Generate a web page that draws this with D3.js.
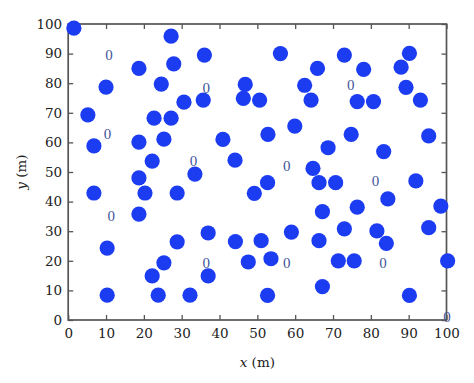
<!DOCTYPE html>
<html><head><meta charset="utf-8">
<script src="https://cdn.jsdelivr.net/npm/d3@7"></script>
<style>body{margin:0;background:#fff}</style>
</head><body>
<svg id="c" width="474" height="383"></svg>
<script>
const nodeX = [1.5,27.2,36,18.7,27.9,10,24.6,5.2,22.7,27.2,30.6,35.7,6.8,18.7,25.3,22.2,33.5,18.7,6.8,20.3,28.8,18.7,10.3,28.8,37,25.3,22.2,37,10.3,23.8,32.2,
 56.1,73,90.2,65.9,78.1,88,46.8,46.3,50.6,62.5,64.2,76.4,80.7,89.3,93.1,59.9,52.8,74.8,95.3,40.9,44.1,68.7,83.4,64.7,66.3,70.7,52.7,49.2,91.9,67.2,76.4,84.5,98.5,44.2,51,59,66.3,73,81.6,84.1,95.3,47.6,53.6,71.4,75.6,100.3,67.2,52.7,90.2];
const nodeY = [98.6,95.9,89.5,85,86.5,78.7,79.7,69.3,68.2,68.2,73.6,74.3,58.8,60.1,61.1,53.7,49.3,48,42.9,42.9,42.9,35.8,24.3,26.4,29.4,19.3,14.9,14.9,8.4,8.4,8.4,
 90,89.5,90.1,85,84.7,85.4,79.6,74.9,74.3,79.3,74.3,73.8,73.8,78.6,74.3,65.5,62.7,62.7,62.2,61,54,58.2,56.9,51.2,46.4,46.4,46.4,42.8,47,36.6,38.1,40.9,38.5,26.5,26.8,29.7,26.8,30.8,30.1,25.9,31.2,19.6,20.7,20,20,20,11.3,8.3,8.3];
const zeroX = [10.8,36.5,10.4,33.1,74.7,57.8,81.2,11.4,36.5,57.8,83.2,100.1];
const zeroY = [89.5,78.6,62.8,53.8,79.4,52,47,35.2,19.5,19.4,19.4,1.1];
const xTicks = [0,10,20,30,40,50,60,70,80,90,100];
const yTicks = [0,10,20,30,40,50,60,70,80,90,100];

const svg = d3.select("#c");
const L = 68.2, R = 446.5, T = 24, B = 320;
const x = d3.scaleLinear().domain([0,100]).range([L,R]);
const y = d3.scaleLinear().domain([0,100]).range([B,T]);
const font = "DejaVu Serif";
const axisColor = "#555";

function styleAxis(g, showLabels){
  g.attr("font-family", font);
  g.select(".domain").remove();
  g.selectAll(".tick line").attr("stroke", axisColor).attr("stroke-width", 1.3);
  g.selectAll(".tick text").attr("font-family", font).attr("font-size", 13.5).attr("fill", "#222");
  if(!showLabels) g.selectAll(".tick text").remove();
}
svg.append("g").attr("transform",`translate(0,${B})`)
  .call(d3.axisBottom(x).tickValues(xTicks).tickSize(-5).tickPadding(8).tickFormat(d3.format("d")))
  .call(g=>styleAxis(g,true));
svg.append("g").attr("transform",`translate(0,${T})`)
  .call(d3.axisTop(x).tickValues(xTicks).tickSize(-5).tickFormat(""))
  .call(g=>styleAxis(g,false));
svg.append("g").attr("transform",`translate(${L},0)`)
  .call(d3.axisLeft(y).tickValues(yTicks).tickSize(-5).tickPadding(6).tickFormat(d3.format("d")))
  .call(g=>styleAxis(g,true));
svg.append("g").attr("transform",`translate(${R},0)`)
  .call(d3.axisRight(y).tickValues(yTicks).tickSize(-5).tickFormat(""))
  .call(g=>styleAxis(g,false));
svg.append("rect").attr("x",L).attr("y",T).attr("width",R-L).attr("height",B-T)
  .attr("fill","none").attr("stroke",axisColor).attr("stroke-width",1.7);

const pts = nodeX.map((v,i)=>({x:v,y:nodeY[i]}));
svg.append("g").selectAll("circle").data(pts).join("circle")
  .attr("cx",d=>x(d.x)).attr("cy",d=>y(d.y)).attr("r",7.6).attr("fill","#1c3cf2");

const zs = zeroX.map((v,i)=>({x:v,y:zeroY[i]}));
svg.append("g").selectAll("text").data(zs).join("text")
  .attr("x",d=>x(d.x)).attr("y",d=>y(d.y)).attr("dy","0.35em")
  .attr("text-anchor","middle").attr("font-family","Liberation Serif").attr("font-size",15)
  .attr("fill","#42559a").text("0");

svg.append("text").attr("x",(L+R)/2).attr("y",367).attr("text-anchor","middle")
  .attr("font-family",font).attr("font-size",13.5).attr("fill","#222")
  .html("<tspan font-style='italic'>x</tspan> (m)");
svg.append("text").attr("transform",`translate(26,${(T+B)/2}) rotate(-90)`).attr("text-anchor","middle")
  .attr("font-family",font).attr("font-size",13.5).attr("fill","#222")
  .html("<tspan font-style='italic'>y</tspan> (m)");
</script>
</body></html>
